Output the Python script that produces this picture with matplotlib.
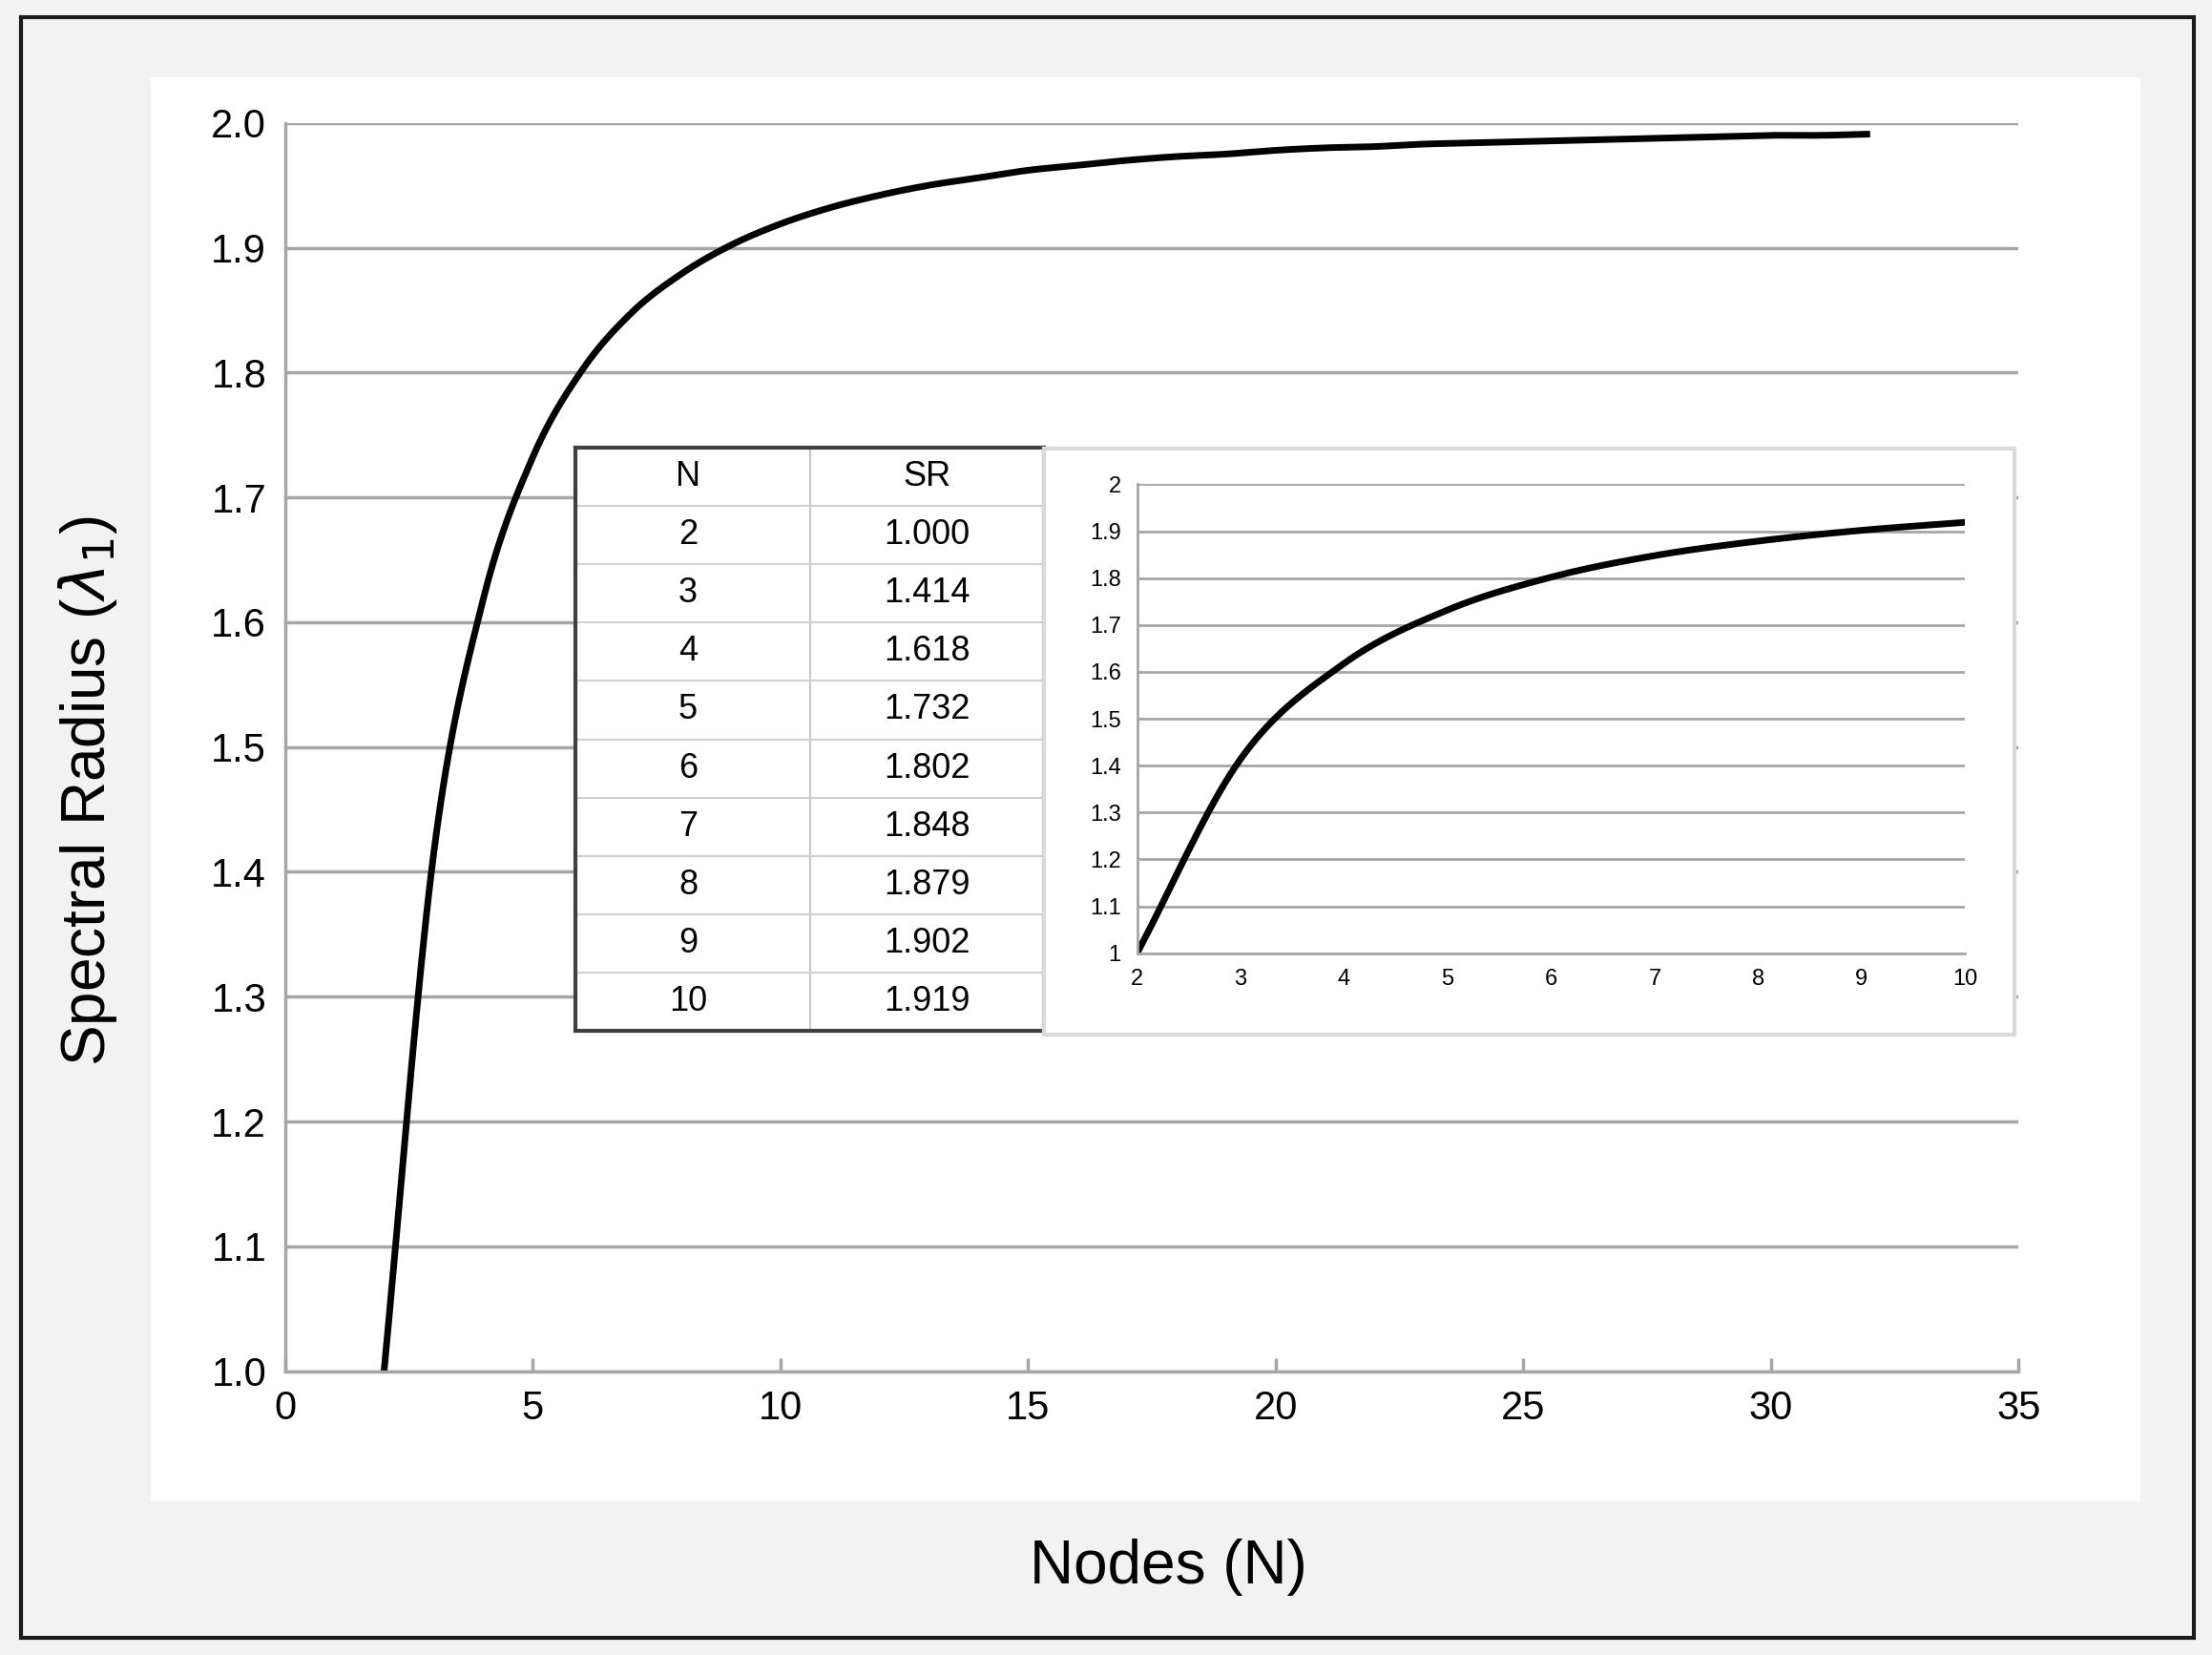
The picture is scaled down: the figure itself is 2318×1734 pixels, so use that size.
import matplotlib
matplotlib.use("Agg")
import matplotlib.pyplot as plt
from matplotlib.patches import Rectangle
import numpy as np

N = list(range(2, 33))
SR = [1.000, 1.414, 1.618, 1.732, 1.802, 1.848, 1.879, 1.902, 1.919, 1.932,
      1.942, 1.950, 1.956, 1.962, 1.966, 1.970, 1.973, 1.975, 1.978, 1.980,
      1.981, 1.983, 1.984, 1.985, 1.986, 1.987, 1.988, 1.989, 1.990, 1.990, 1.991]
table_N = [2, 3, 4, 5, 6, 7, 8, 9, 10]
table_SR = ["1.000", "1.414", "1.618", "1.732", "1.802", "1.848", "1.879", "1.902", "1.919"]


def smooth(x, y, k=20):
    # Catmull-Rom rendering of a smoothed line through the points
    x = np.asarray(x, float); y = np.asarray(y, float)
    px = np.concatenate([[2 * x[0] - x[1]], x, [2 * x[-1] - x[-2]]])
    py = np.concatenate([[2 * y[0] - y[1]], y, [2 * y[-1] - y[-2]]])
    xs, ys = [], []
    t = np.linspace(0, 1, k, endpoint=False)
    for i in range(1, len(px) - 2):
        for arr, out in ((px, xs), (py, ys)):
            p0, p1, p2, p3 = arr[i - 1], arr[i], arr[i + 1], arr[i + 2]
            out.extend(0.5 * (2 * p1 + (-p0 + p2) * t + (2 * p0 - 5 * p1 + 4 * p2 - p3) * t ** 2
                              + (-p0 + 3 * p1 - 3 * p2 + p3) * t ** 3))
    xs.append(x[-1]); ys.append(y[-1])
    return xs, ys


plt.rcParams['font.family'] = ['Liberation Sans', 'DejaVu Sans']
W, H = 1568, 1172
fig = plt.figure(figsize=(23.18, 17.34), dpi=100)
fig.patch.set_facecolor('#f2f2f2')

def fx(x): return x / W
def fy(y): return 1 - y / H

fig.patches.append(Rectangle((fx(15), fy(1160)), fx(1540), 1148 / H, transform=fig.transFigure,
                             fill=False, edgecolor='#1a1a1a', linewidth=3, zorder=-2))
fig.patches.append(Rectangle((fx(107), fy(1063)), fx(1410), 1008 / H, transform=fig.transFigure,
                             facecolor='white', edgecolor='none', zorder=-1))

ax = fig.add_axes([fx(202), fy(971), fx(1431 - 202), (971 - 87) / H])
ax.set_facecolor('none')
sx, sy = smooth(N, SR)
ax.plot(sx, sy, color='black', lw=5, solid_capstyle='butt')
ax.set_xlim(0, 35)
ax.set_ylim(1.0, 2.0)
ax.set_xticks(range(0, 36, 5))
ax.set_yticks([1.0 + 0.1 * i for i in range(11)])
ax.set_yticklabels([f"{1.0 + 0.1 * i:.1f}" for i in range(11)])
ax.grid(axis='y', color='#a6a6a6', lw=2.5)
ax.set_axisbelow(True)
for s in ['top', 'right']:
    ax.spines[s].set_visible(False)
ax.spines['left'].set_color('#a6a6a6'); ax.spines['left'].set_linewidth(2.5)
ax.spines['bottom'].set_color('#a6a6a6'); ax.spines['bottom'].set_linewidth(2.5)
ax.tick_params(axis='both', labelsize=30, color='#a6a6a6', width=2.5, length=10, direction='in', pad=14)
ax.tick_params(axis='y', length=0)
fig.text(fx(62), fy(560), r'Spectral Radius ($\lambda_1$)', rotation=90, fontsize=46, ha='center', va='center')
fig.text(fx(828), fy(1110), 'Nodes (N)', fontsize=46, ha='center', va='center')

# table
tab = fig.add_axes([fx(408), fy(730), fx(740 - 408), (730 - 317) / H], zorder=5)
tab.set_xlim(0, 1); tab.set_ylim(0, 10)
tab.set_xticks([]); tab.set_yticks([])
for s in tab.spines.values():
    s.set_color('#404040'); s.set_linewidth(3)
tab.set_facecolor('white')
xsep = (574 - 408) / (740 - 408)
tab.axvline(xsep, color='#c8c8c8', lw=1.5)
for i in range(1, 10):
    tab.axhline(i, color='#d0d0d0', lw=1.5)
rows = [("N", "SR")] + list(zip([str(n) for n in table_N], table_SR))
for i, (a, b) in enumerate(rows):
    yc = 10 - i - 0.5
    tab.text(0.24, yc, a, ha='center', va='center', fontsize=26)
    tab.text(0.75, yc, b, ha='center', va='center', fontsize=26)

# inset chart background box
box = fig.add_axes([fx(740), fy(733), fx(1428 - 740), (733 - 318) / H], zorder=5)
box.set_xticks([]); box.set_yticks([])
box.set_facecolor('white')
for s in box.spines.values():
    s.set_color('#d9d9d9'); s.set_linewidth(3)

ins = fig.add_axes([fx(806), fy(675), fx(1393 - 806), (675 - 343) / H], zorder=6)
ins.set_facecolor('none')
ix, iy = smooth(N[:9], SR[:9])
ins.plot(ix, iy, color='black', lw=5)
ins.set_xlim(2, 10); ins.set_ylim(1, 2)
ins.set_xticks(range(2, 11))
ins.set_yticks([1 + 0.1 * i for i in range(11)])
ins.set_yticklabels(['1'] + [f"{1 + 0.1 * i:.1f}" for i in range(1, 10)] + ['2'])
ins.grid(axis='y', color='#a6a6a6', lw=2)
ins.set_axisbelow(True)
for s in ['top', 'right']:
    ins.spines[s].set_visible(False)
ins.spines['left'].set_color('#a6a6a6'); ins.spines['bottom'].set_color('#a6a6a6')
ins.spines['left'].set_linewidth(2); ins.spines['bottom'].set_linewidth(2)
ins.tick_params(labelsize=17, color='#a6a6a6', length=0, pad=12)

fig.savefig('out.png', dpi=100, facecolor=fig.get_facecolor())
